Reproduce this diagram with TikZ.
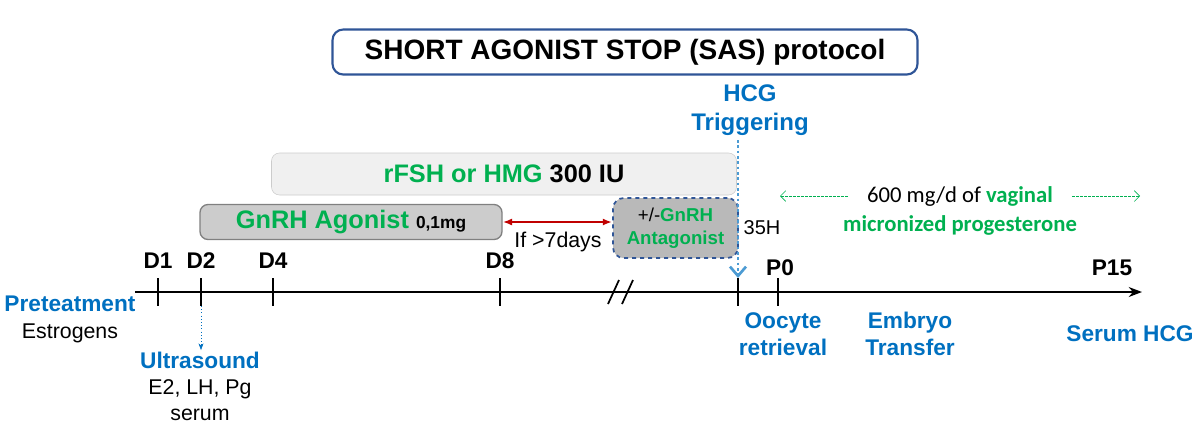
\documentclass[tikz,border=0pt]{standalone}
\usepackage{fontspec}
\setmainfont{Liberation Sans}
\newfontfamily\carlitofont{Carlito}
\usetikzlibrary{arrows.meta}
\definecolor{bl}{RGB}{0,112,192}
\definecolor{gr}{RGB}{0,176,80}
\definecolor{dk}{RGB}{47,85,151}
\definecolor{rd}{RGB}{192,0,0}
\tikzset{lab/.style={font=\fontsize{17}{20}\selectfont\bfseries,text=bl,align=center},
 blk/.style={font=\fontsize{17}{20}\selectfont\bfseries},
 tk/.style={line width=1.3pt}}
\begin{document}
\begin{tikzpicture}[x=0.75pt,y=-0.75pt]
\useasboundingbox (0,0) rectangle (1200,430);
\node[draw=dk,line width=1.6pt,rounded corners=8pt,minimum width=585*0.75pt,minimum height=45*0.75pt,font=\fontsize{21}{24}\selectfont\bfseries] (title) at (625,52) {SHORT AGONIST STOP (SAS) protocol};
\node[lab,font=\fontsize{18}{22}\selectfont\bfseries] (hcg) at (750,110) {HCG\\Triggering};
\node[draw=gray!40,fill=gray!12,rounded corners=6pt,minimum width=465*0.75pt,minimum height=42*0.75pt,font=\fontsize{19}{22}\selectfont\bfseries] (fsh) at (504,174) {\textcolor{gr}{rFSH or HMG} 300 IU};
\node[draw=gray,line width=1pt,fill=gray!40,rounded corners=6pt,minimum width=302*0.75pt,minimum height=35*0.75pt] (ago) at (351,222) {\fontsize{19}{22}\selectfont\bfseries\textcolor{gr}{GnRH Agonist} \fontsize{13}{15}\selectfont 0,1mg};
\node[draw=dk,line width=1.3pt,dashed,fill=gray!55,rounded corners=8pt,minimum width=125*0.75pt,minimum height=60*0.75pt,align=center,font=\fontsize{14}{17}\selectfont] (ant) at (675.5,228) {+/-\textcolor{gr}{\bfseries GnRH}\\\textcolor{gr}{\bfseries Antagonist}};
\draw[rd,line width=2pt,{Latex[length=7pt]}-{Latex[length=7pt]}] (ago.east|-0,222) -- (ant.west|-0,222);
\node[font=\fontsize{16}{18}\selectfont] (if) at (558,242) {If >7days};
\node[font=\fontsize{15}{17}\selectfont] (h35) at (762,228) {35H};
\coordinate (vt) at (738,140);
\coordinate (vb) at (738,278);
\draw[bl!70,line width=2pt,dotted,-{Straight Barb[length=7pt,width=12pt,line width=2pt]}] (vt) -- (vb);
\coordinate (ax0) at (135,292); \coordinate (ax1) at (1142,292);
\draw[line width=1.3pt,-{Stealth[length=10pt]}] (ax0) -- (ax1);
\foreach \x/\t in {158/D1,201/D2,273/D4,500/D8}{
 \draw[tk] (\x,278) -- (\x,306);
 \node[blk] at (\x,261) {\t};}
\draw[tk] (738,278) -- (738,306);
\draw[tk] (778,278) -- (778,306);
\node[blk] (p0) at (780,268) {P0};
\node[blk] (p15) at (1112,268) {P15};
\draw[tk] (608,304) -- (619,280); \draw[tk] (622,304) -- (633,280);
\node[lab] (pre) at (70,304) {Preteatment};
\node[font=\fontsize{16}{18}\selectfont] (est) at (70,333) {Estrogens};
\coordinate (us0) at (201,306); \coordinate (us1) at (201,350);
\draw[bl,dotted,-{Stealth[length=5pt]}] (us0) -- (us1);
\node[lab] (us) at (200,360) {Ultrasound};
\node[font=\fontsize{16}{20}\selectfont,align=center] (e2) at (200,400) {E2, LH, Pg\\serum};
\node[lab] (oo) at (783,334) {Oocyte\\retrieval};
\node[lab] (et) at (910,334) {Embryo\\Transfer};
\node[lab] (sh) at (1130,334) {Serum HCG};
\node[font=\carlitofont\fontsize{17}{22}\selectfont,align=center] (prog) at (960,211) {600 mg/d of \textcolor{gr}{\bfseries vaginal}\\\textcolor{gr}{\bfseries micronized progesterone}};
\coordinate (g1) at (780,196); \coordinate (g2) at (848,196);
\coordinate (g3) at (1072,196); \coordinate (g4) at (1140,196);
\draw[gr,dash pattern=on 2pt off 1pt,-{Straight Barb[length=4pt]}] (g2) -- (g1);
\draw[gr,dash pattern=on 2pt off 1pt,-{Straight Barb[length=4pt]}] (g3) -- (g4);
\end{tikzpicture}
\end{document}
